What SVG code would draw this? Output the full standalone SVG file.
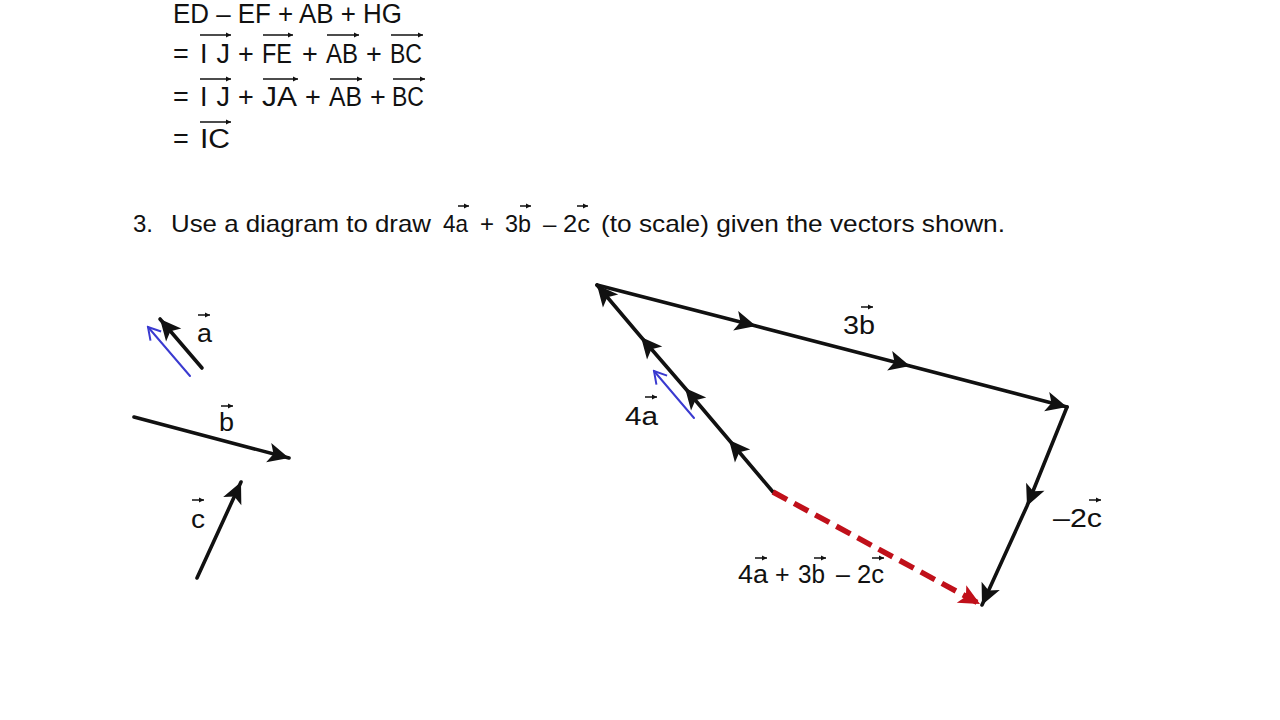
<svg xmlns="http://www.w3.org/2000/svg" width="1280" height="720" viewBox="0 0 1280 720">
<defs>
<style>
.t{font-family:"Liberation Sans","DejaVu Sans",sans-serif;fill:#111}
.eq{font-size:27px}
.q{font-size:24px}
.lb{font-size:25px}
.vec{stroke:#111;stroke-width:3.6;fill:none;stroke-linecap:round}
.ov{stroke:#111;stroke-width:1.5;fill:none}
.blue{stroke:#3a3ad0;stroke-width:2;fill:none;stroke-linecap:round}
</style>
<marker id="ah" markerUnits="userSpaceOnUse" viewBox="-24 -12 26 24" refX="0" refY="0" markerWidth="26" markerHeight="24" orient="auto">
<path d="M0,0 L-21,-10 L-16,0 L-21,10 Z" fill="#111"/>
</marker>
<marker id="ahr" markerUnits="userSpaceOnUse" viewBox="-24 -12 26 24" refX="0" refY="0" markerWidth="26" markerHeight="24" orient="auto">
<path d="M0,0 L-21,-10 L-16,0 L-21,10 Z" fill="#c0101a"/>
</marker>
<marker id="sm" markerUnits="userSpaceOnUse" viewBox="-6 -4 7 8" refX="0" refY="0" markerWidth="7" markerHeight="8" orient="auto">
<path d="M0,0 L-5,-2.5 L-5,2.5 Z" fill="#111"/>
</marker>
<marker id="bl" markerUnits="userSpaceOnUse" viewBox="-14 -10 16 20" refX="0" refY="0" markerWidth="16" markerHeight="20" orient="auto">
<path d="M-12,-7 L0,0 L-12,7" fill="none" stroke="#3a3ad0" stroke-width="2"/>
</marker>
</defs>

<g id="working">
<text class="t eq" x="173" y="23" textLength="229" lengthAdjust="spacingAndGlyphs">ED – EF + AB + HG</text>
<text class="t eq" x="173" y="63">=</text>
<text class="t eq" x="200" y="63" textLength="30" lengthAdjust="spacing">IJ</text>
<text class="t eq" x="238" y="63">+</text>
<text class="t eq" x="262" y="63" textLength="30" lengthAdjust="spacingAndGlyphs">FE</text>
<text class="t eq" x="302" y="63">+</text>
<text class="t eq" x="326" y="63" textLength="32" lengthAdjust="spacingAndGlyphs">AB</text>
<text class="t eq" x="366" y="63">+</text>
<text class="t eq" x="390" y="63" textLength="32" lengthAdjust="spacingAndGlyphs">BC</text>
<text class="t eq" x="173" y="106">=</text>
<text class="t eq" x="200" y="106" textLength="30" lengthAdjust="spacing">IJ</text>
<text class="t eq" x="238" y="106">+</text>
<text class="t eq" x="262" y="106" textLength="35" lengthAdjust="spacingAndGlyphs">JA</text>
<text class="t eq" x="305" y="106">+</text>
<text class="t eq" x="329" y="106" textLength="33" lengthAdjust="spacingAndGlyphs">AB</text>
<text class="t eq" x="370" y="106">+</text>
<text class="t eq" x="392" y="106" textLength="32" lengthAdjust="spacingAndGlyphs">BC</text>
<text class="t eq" x="173" y="148">=</text>
<text class="t eq" x="200" y="148" textLength="30" lengthAdjust="spacingAndGlyphs">IC</text>
<g class="ov" marker-end="url(#sm)">
<line x1="200" y1="35" x2="231" y2="35"/><line x1="263" y1="35" x2="293" y2="35"/><line x1="327" y1="35" x2="359" y2="35"/><line x1="391" y1="35" x2="423" y2="35"/>
<line x1="200" y1="79" x2="231" y2="79"/><line x1="263" y1="79" x2="298" y2="79"/><line x1="330" y1="79" x2="362" y2="79"/><line x1="393" y1="79" x2="425" y2="79"/>
<line x1="200" y1="122" x2="231" y2="122"/>
</g>
</g>

<g id="question">
<text class="t q" x="133" y="232">3.</text>
<text class="t q" x="171" y="232" textLength="260" lengthAdjust="spacingAndGlyphs">Use a diagram to draw</text>
<text class="t q" x="443" y="232" textLength="25" lengthAdjust="spacingAndGlyphs">4a</text>
<text class="t q" x="480" y="232">+</text>
<text class="t q" x="505" y="232" textLength="26" lengthAdjust="spacingAndGlyphs">3b</text>
<text class="t q" x="543" y="232">–</text>
<text class="t q" x="563" y="232" textLength="27" lengthAdjust="spacingAndGlyphs">2c</text>
<text class="t q" x="601" y="232" textLength="404" lengthAdjust="spacingAndGlyphs">(to scale) given the vectors shown.</text>
<g class="ov" marker-end="url(#sm)">
<line x1="458" y1="206" x2="469" y2="206"/><line x1="520" y1="206" x2="531" y2="206"/><line x1="577" y1="206" x2="588" y2="206"/>
</g>
</g>

<g id="given-vectors">
<g id="vec-a">
<line class="blue" x1="190" y1="376" x2="148" y2="327" marker-end="url(#bl)"/>
<line class="vec" x1="202" y1="368" x2="160" y2="319" marker-end="url(#ah)"/>
<text class="t lb" x="197" y="342" textLength="15" lengthAdjust="spacingAndGlyphs">a</text>
<line class="ov" x1="198" y1="315" x2="210" y2="315" marker-end="url(#sm)"/>
</g>
<g id="vec-b">
<line class="vec" x1="134" y1="417" x2="289" y2="458" marker-end="url(#ah)"/>
<text class="t lb" x="219" y="431" textLength="15" lengthAdjust="spacingAndGlyphs">b</text>
<line class="ov" x1="221" y1="406" x2="233" y2="406" marker-end="url(#sm)"/>
</g>
<g id="vec-c">
<line class="vec" x1="197" y1="578" x2="241" y2="482" marker-end="url(#ah)"/>
<text class="t lb" x="191" y="528" textLength="14" lengthAdjust="spacingAndGlyphs">c</text>
<line class="ov" x1="192" y1="500" x2="204" y2="500" marker-end="url(#sm)"/>
</g>
</g>

<g id="connectors">
<polyline class="vec" points="773,492 729,440 685,388 641,337 597,285" marker-mid="url(#ah)" marker-end="url(#ah)"/>
<polyline class="vec" points="597,285 756,326 910,366 1067,407" marker-mid="url(#ah)" marker-end="url(#ah)"/>
<polyline class="vec" points="1067,407 1027,506 982,605" marker-mid="url(#ah)" marker-end="url(#ah)"/>
<line x1="773" y1="492" x2="980" y2="604" stroke="#c0101a" stroke-width="5.5" stroke-dasharray="16,8" marker-end="url(#ahr)"/>
<line class="blue" x1="694" y1="418" x2="654" y2="371" marker-end="url(#bl)"/>
</g>

<g id="labels">
<text class="t lb" x="625" y="425" textLength="33" lengthAdjust="spacingAndGlyphs">4a</text>
<line class="ov" x1="645" y1="397" x2="657" y2="397" marker-end="url(#sm)"/>
<text class="t lb" x="843" y="334" textLength="32" lengthAdjust="spacingAndGlyphs">3b</text>
<line class="ov" x1="861" y1="307" x2="873" y2="307" marker-end="url(#sm)"/>
<text class="t lb" x="1053" y="527" textLength="49" lengthAdjust="spacingAndGlyphs">–2c</text>
<line class="ov" x1="1089" y1="500" x2="1101" y2="500" marker-end="url(#sm)"/>
<text class="t lb" x="738" y="583" textLength="30" lengthAdjust="spacingAndGlyphs">4a</text>
<text class="t lb" x="775" y="583">+</text>
<text class="t lb" x="798" y="583" textLength="27" lengthAdjust="spacingAndGlyphs">3b</text>
<text class="t lb" x="836" y="583">–</text>
<text class="t lb" x="857" y="583" textLength="27" lengthAdjust="spacingAndGlyphs">2c</text>
<g class="ov" marker-end="url(#sm)">
<line x1="755" y1="558" x2="767" y2="558"/><line x1="814" y1="558" x2="826" y2="558"/><line x1="872" y1="558" x2="884" y2="558"/>
</g>
</g>
</svg>
